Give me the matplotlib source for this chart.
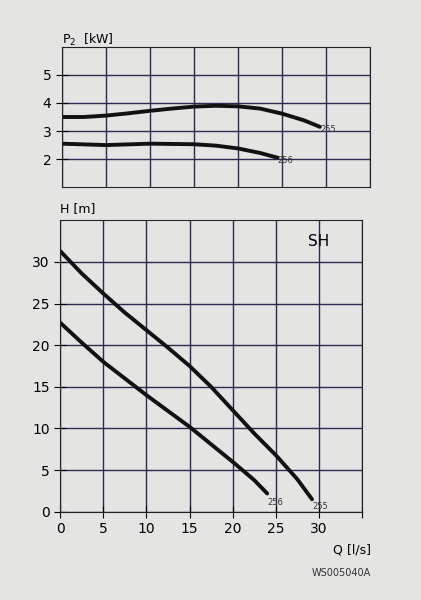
import matplotlib.pyplot as plt

# flow Q [l/s]
q_p255 = [0, 2.5, 5, 7.5, 10, 12.5, 15, 17.5, 20, 22.5, 25, 27.5, 29.3]
p255 = [3.5, 3.5, 3.55, 3.63, 3.72, 3.8, 3.87, 3.9, 3.88, 3.8, 3.62, 3.38, 3.15]
q_p256 = [0, 5, 10, 15, 17.5, 20, 22.5, 24.5]
p256 = [2.55, 2.5, 2.55, 2.53, 2.48, 2.38, 2.22, 2.05]

q_h255 = [0, 2.5, 5, 7.5, 10, 12.5, 15, 17.5, 20, 22.5, 25, 27.5, 29.2]
h255 = [31.3, 28.6, 26.2, 23.9, 21.8, 19.7, 17.5, 15.0, 12.2, 9.4, 6.8, 3.9, 1.5]
q_h256 = [0, 2.5, 5, 7.5, 10, 12.5, 15, 17.5, 20, 22.5, 24]
h256 = [22.7, 20.3, 18.0, 16.0, 14.0, 12.1, 10.2, 8.1, 6.0, 3.8, 2.2]

bg = '#e4e4e2'
fig = plt.figure(figsize=(4.21, 6), dpi=100, facecolor=bg)
ax1 = fig.add_axes([0.147, 0.688, 0.732, 0.234], facecolor=bg)
ax2 = fig.add_axes([0.143, 0.147, 0.717, 0.486], facecolor=bg)

# power curves
ax1.plot(q_p255, p255, color='#111111', lw=2.8, solid_capstyle='round')
ax1.plot(q_p256, p256, color='#111111', lw=2.8, solid_capstyle='round')
ax1.text(29.4, 3.05, '255', fontsize=6, va='center', color='#333')
ax1.text(24.5, 1.95, '256', fontsize=6, va='center', color='#333')
ax1.set_xlim(0, 35)
ax1.set_ylim(1, 6)
ax1.set_xticks(range(0, 36, 5))
ax1.set_xticklabels([])
ax1.set_yticks([2, 3, 4, 5])
ax1.tick_params(axis='x', length=0)
ax1.tick_params(axis='y', direction='inout', length=8, labelsize=10)
ax1.grid(True, color='#2a2a55', lw=1)
ax1.text(0, 6.1, r'P$_2$  [kW]', fontsize=9)

# head curves
ax2.plot(q_h255, h255, color='#111111', lw=2.8, solid_capstyle='round')
ax2.plot(q_h256, h256, color='#111111', lw=2.8, solid_capstyle='round')
ax2.text(29.2, 0.6, '255', fontsize=6, va='center', color='#333')
ax2.text(24, 1.1, '256', fontsize=6, va='center', color='#333')
ax2.text(30, 32.5, 'SH', fontsize=11, ha='center', va='center')
ax2.set_xlim(0, 35)
ax2.set_ylim(0, 35)
ax2.set_xticks(range(0, 36, 5))
ax2.set_xticklabels(['0', '5', '10', '15', '20', '25', '30', ''])
ax2.set_yticks(range(0, 35, 5))
ax2.tick_params(direction='inout', length=8, labelsize=10)
ax2.grid(True, color='#2a2a55', lw=1)
ax2.text(0, 36, 'H [m]', fontsize=9)
ax2.text(36, -4.6, 'Q [l/s]', fontsize=9, ha='right', va='center')
ax2.text(36, -7.4, 'WS005040A', fontsize=7, ha='right', va='center', color='#333')

for ax in (ax1, ax2):
    for s in ax.spines.values():
        s.set_color('#222')

fig.savefig('out.png', dpi=100, facecolor=bg)
